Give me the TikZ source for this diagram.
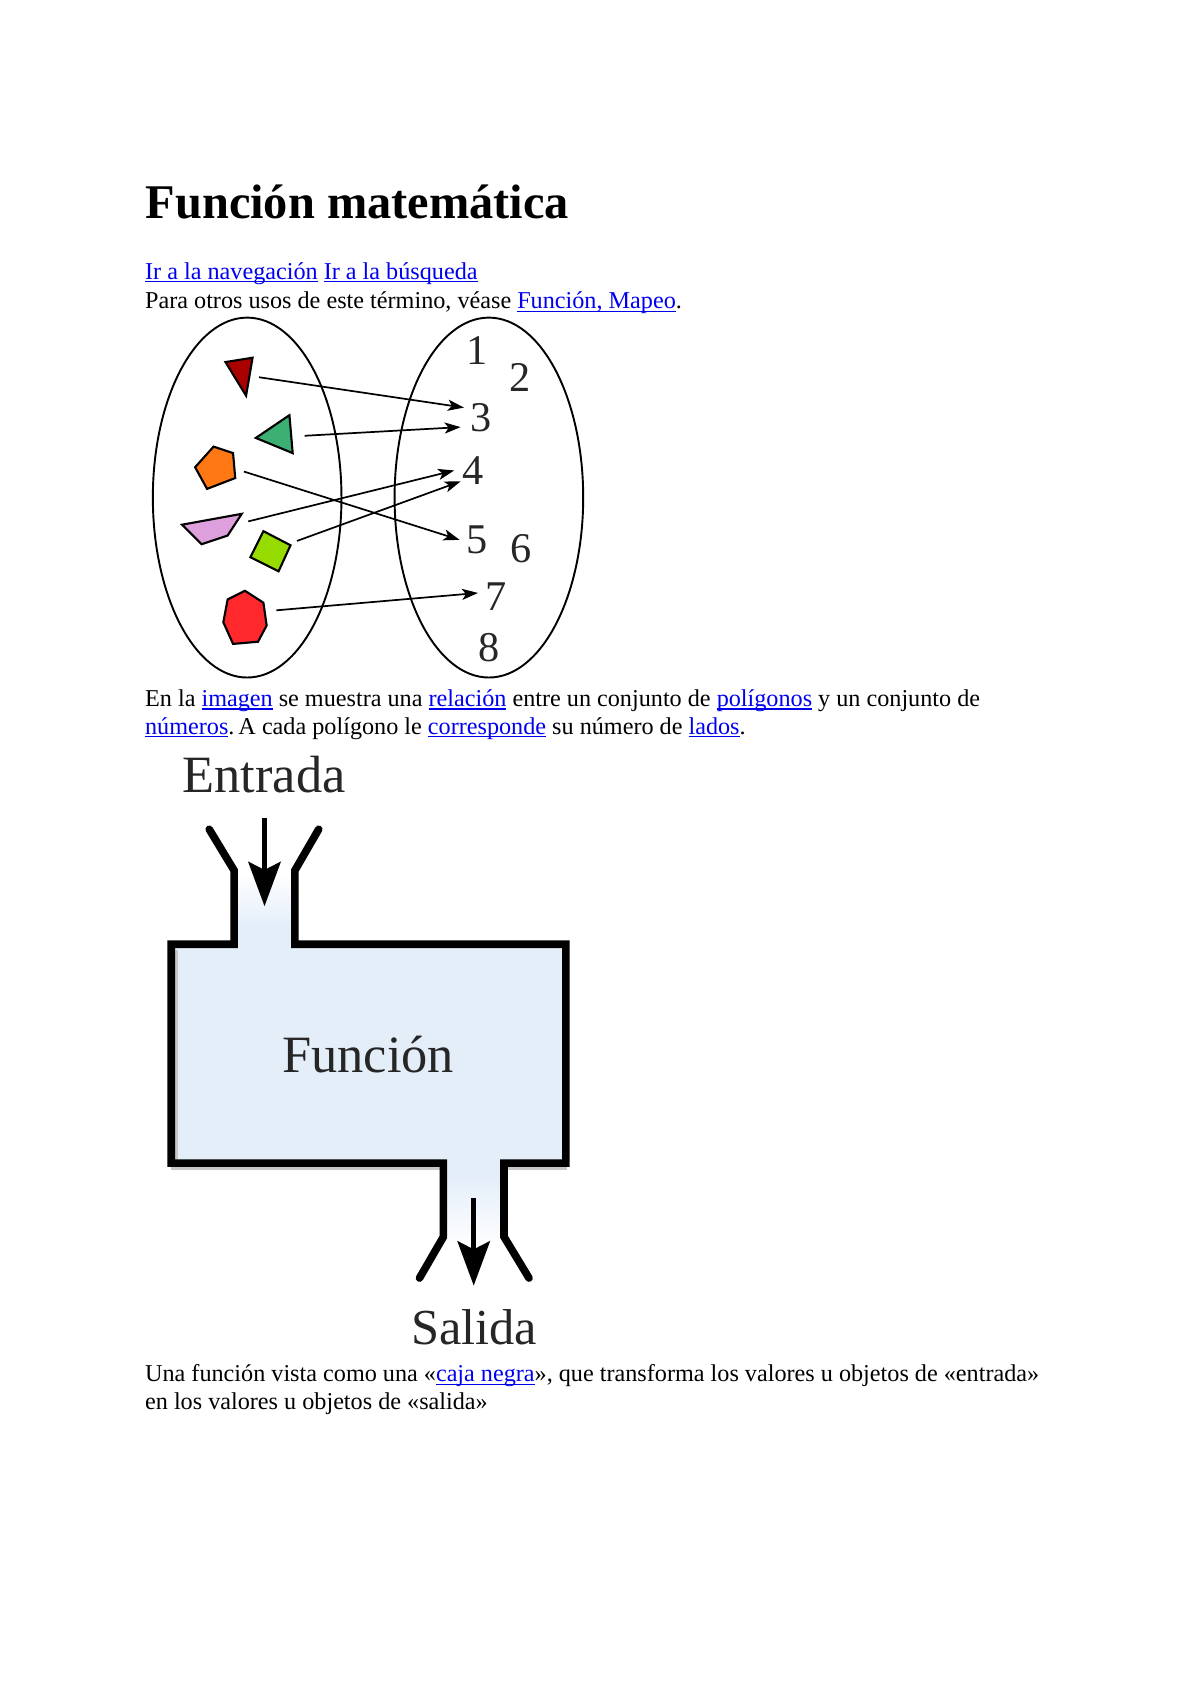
\documentclass[tikz,border=0pt]{standalone}
\usepackage{fontspec}
\setmainfont{Liberation Serif}
\usetikzlibrary{arrows.meta}
\frenchspacing
\definecolor{linkblue}{RGB}{0,0,238}
\definecolor{boxfill}{RGB}{228,238,249}
\definecolor{c1}{RGB}{170,0,0}
\definecolor{c2}{RGB}{60,175,115}
\definecolor{c3}{RGB}{255,120,20}
\definecolor{c4}{RGB}{222,160,220}
\definecolor{c5}{RGB}{150,220,0}
\definecolor{c6}{RGB}{255,40,45}
\newcommand\lnk[1]{\textcolor{linkblue}{\setbox0\hbox{#1}\rlap{\rule[-1.5pt]{\wd0}{0.55pt}}\box0}}
\tikzset{
  textline/.style={anchor=base west,inner sep=0pt,font=\fontsize{12}{14}\selectfont},
  titletext/.style={anchor=base west,inner sep=0pt,font=\fontsize{24}{28}\bfseries\selectfont},
  setoval/.style={draw=black,line width=0.95pt},
  poly/.style={draw=black,line width=1.05pt,line join=miter},
  mapto/.style={draw=black,line width=0.85pt,-{Stealth[length=8pt,width=5.5pt,inset=2pt]}},
  numlabel/.style={inner sep=0pt,font=\fontsize{21}{24}\selectfont,text=black!85},
  boxlabel/.style={inner sep=0pt,anchor=base west,font=\fontsize{26}{28}\selectfont,text=black!85},
  wall/.style={draw=black,line width=3.8pt,line join=miter,line cap=round},
  flow/.style={draw=black,line width=2.6pt,-{Stealth[length=22pt,width=16pt,inset=4pt]}},
  wallshadow/.style={draw=black!22,line width=1.2pt}
}
\begin{document}
\begin{tikzpicture}[x=0.53774pt,y=-0.53774pt]
\useasboundingbox (0,0) rectangle (1107,1566.4);
% page text
\node[titletext] (title) at (134,202) {Función matemática};
\node[textline] (nav) at (133.5,257.7) {\lnk{Ir a la navegación} \lnk{Ir a la búsqueda}};
\node[textline] (other) at (133.5,284.9) {Para otros usos de este término, véase \lnk{Función, Mapeo}.};
\node[textline] (capa) at (133.5,651.8) {En la \lnk{imagen} se muestra una \lnk{relación} entre un conjunto de \lnk{polígonos} y un conjunto de};
\node[textline] (capb) at (133.5,677.4) {\lnk{números}.\kern-1pt{} A cada polígono le \lnk{corresponde} su número de \lnk{lados}.};
\node[textline] (capc) at (133.5,1274.5) {Una función vista como una «\lnk{caja negra}», que transforma los valores u objetos de «entrada»};
\node[textline] (capd) at (133.5,1300.5) {en los valores u objetos de «salida»};
% sets
\draw[setoval] (228,459) ellipse [x radius=87,y radius=166];
\draw[setoval] (451,459) ellipse [x radius=87,y radius=166];
% polygons
\draw[poly,fill=c1] (208,334) -- (233,330) -- (227,365) -- cycle;
\draw[poly,fill=c2] (236,404) -- (267,383) -- (270,418) -- cycle;
\draw[poly,fill=c3] (197,412) -- (215,418) -- (217,441) -- (191,451) -- (180,431) -- cycle;
\draw[poly,fill=c4] (168,484) -- (223,474) -- (210,494) -- (186,502) -- cycle;
\draw[poly,fill=c5] (243,490) -- (268,503) -- (257,527) -- (231,514) -- cycle;
\draw[poly,fill=c6] (226,545) -- (243,556) -- (246,577) -- (238,592) -- (215,594) -- (206,574) -- (210,553) -- cycle;
% numbers
\node[numlabel] (n1) at (440,323) {1};
\node[numlabel] (n2) at (480,348) {2};
\node[numlabel] (n3) at (444,385) {3};
\node[numlabel] (n4) at (436,434) {4};
\node[numlabel] (n5) at (440,498) {5};
\node[numlabel] (n6) at (481,506) {6};
\node[numlabel] (n7) at (458,550) {7};
\node[numlabel] (n8) at (451,597) {8};
% arrow ends
\coordinate (s1) at (239,348); \coordinate (e1) at (428,376);
\coordinate (s2) at (281,402); \coordinate (e2) at (425,394);
\coordinate (s3) at (225,435); \coordinate (e3) at (424,498);
\coordinate (s4) at (229,481); \coordinate (e4) at (419,434);
\coordinate (s5) at (274,499); \coordinate (e5) at (425,444);
\coordinate (s6) at (255,563); \coordinate (e6) at (441,547);
\draw[mapto] (s1) -- (e1);
\draw[mapto] (s2) -- (e2);
\draw[mapto] (s3) -- (e3);
\draw[mapto] (s4) -- (e4);
\draw[mapto] (s5) -- (e5);
\draw[mapto] (s6) -- (e6);
% black box
\fill[boxfill] (158,871) rectangle (522,1073);
\shade[top color=white,bottom color=boxfill] (216,805) rectangle (272,855);
\fill[boxfill] (216,854) rectangle (272,872);
\shade[top color=boxfill,bottom color=white] (409,1085) rectangle (465,1150);
\fill[boxfill] (409,1072) rectangle (465,1086);
\draw[wallshadow] (163,876) -- (163,1070);
\draw[wallshadow] (158,1078) -- (407,1078);
\draw[wallshadow] (467,1078) -- (523,1078);
\draw[wall] (193,765) -- (216,803) -- (216,871) -- (158,871) -- (158,1073) -- (409,1073) -- (409,1141) -- (387,1179);
\draw[wall] (294,765) -- (272,803) -- (272,871) -- (522,871) -- (522,1073) -- (465,1073) -- (465,1141) -- (488,1179);
\coordinate (inA) at (244,755); \coordinate (inB) at (244,836);
\coordinate (outA) at (437,1105); \coordinate (outB) at (437,1186);
\draw[flow] (inA) -- (inB);
\draw[flow] (outA) -- (outB);
\node[boxlabel] (entrada) at (168,731) {Entrada};
\node[boxlabel] (funcion) at (260,989) {Función};
\node[boxlabel,font=\fontsize{25}{28}\selectfont] (salida) at (379,1240) {Salida};
\end{tikzpicture}
\end{document}
